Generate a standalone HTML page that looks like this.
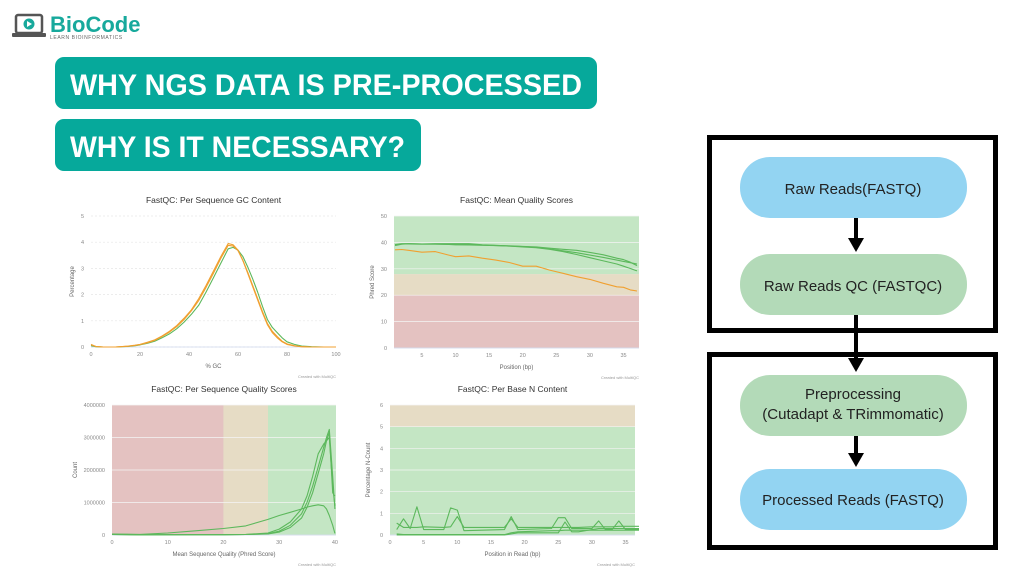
<!DOCTYPE html>
<html><head><meta charset="utf-8"><style>
html,body{margin:0;padding:0;background:#fff;}
svg{display:block;font-family:"Liberation Sans",sans-serif;}
</style></head><body>
<svg id="root" width="1024" height="576" viewBox="0 0 1024 576" xmlns="http://www.w3.org/2000/svg">
<g>
  <rect x="16" y="15" width="26" height="18" rx="2" fill="none" stroke="#555" stroke-width="2.5"/>
  <rect x="12" y="33" width="34" height="4" rx="1" fill="#555"/>
  <circle cx="29" cy="24" r="5.5" fill="#17a99c"/>
  <polygon points="27,21 27,27 32,24" fill="#fff"/>
  <text x="50" y="32" font-size="22" font-weight="bold" fill="#17a99c">BioCode</text>
  <text x="50" y="39" font-size="5" fill="#666" letter-spacing="0.6">LEARN BIOINFORMATICS</text>
</g>
<g>
  <rect x="55" y="57" width="542" height="52" rx="9" fill="#06a99b"/>
  <text x="70" y="95" font-size="30" font-weight="bold" fill="#fff" textLength="512" lengthAdjust="spacingAndGlyphs">WHY NGS DATA IS PRE-PROCESSED</text>
</g>
<g>
  <rect x="55" y="119" width="366" height="52" rx="9" fill="#06a99b"/>
  <text x="70" y="157" font-size="30" font-weight="bold" fill="#fff" textLength="335" lengthAdjust="spacingAndGlyphs">WHY IS IT NECESSARY?</text>
</g>
<g id="flow">
  <rect x="709.5" y="137.5" width="286" height="193" fill="none" stroke="#000" stroke-width="5"/>
  <rect x="709.5" y="354.5" width="286" height="193" fill="none" stroke="#000" stroke-width="5"/>
  <rect x="740" y="157" width="227" height="61" rx="30" fill="#93d4f2"/>
  <text x="853" y="194" font-size="15" text-anchor="middle" fill="#222">Raw Reads(FASTQ)</text>
  <rect x="740" y="254" width="227" height="61" rx="30" fill="#b3dab8"/>
  <text x="853" y="291" font-size="15" text-anchor="middle" fill="#222">Raw Reads QC (FASTQC)</text>
  <rect x="740" y="375" width="227" height="61" rx="30" fill="#b3dab8"/>
  <text x="853" y="399" font-size="15" text-anchor="middle" fill="#222">Preprocessing</text>
  <text x="853" y="419" font-size="15" text-anchor="middle" fill="#222">(Cutadapt &amp; TRimmomatic)</text>
  <rect x="740" y="469" width="227" height="61" rx="30" fill="#93d4f2"/>
  <text x="853" y="505" font-size="15" text-anchor="middle" fill="#222">Processed Reads (FASTQ)</text>
  <g fill="#000" stroke="#000" stroke-width="4">
    <line x1="856" y1="218" x2="856" y2="240"/><polygon points="848,238 864,238 856,252" stroke="none"/>
    <line x1="856" y1="315" x2="856" y2="360"/><polygon points="848,358 864,358 856,372" stroke="none"/>
    <line x1="856" y1="436" x2="856" y2="455"/><polygon points="848,453 864,453 856,467" stroke="none"/>
  </g>
</g>
<g id="charts"></g>
</svg>
<script>
// ---- Chart 1 data: GC content (x = %GC)
const gcX = [0,2,5,10,15,18,20,23,26,29,32,35,38,41,44,47,50,53,56,58,60,62,64,66,68,70,72,74,76,78,80,83,86,90,95,100];
const gcGreen = [0.05,0.01,0,0,0.02,0.05,0.08,0.14,0.22,0.35,0.5,0.7,0.95,1.25,1.6,2.1,2.65,3.2,3.75,3.8,3.7,3.45,3.05,2.6,2.1,1.55,1.05,0.75,0.55,0.35,0.2,0.1,0.04,0.01,0,0];
const gcOrangeA = [0.1,0.02,0,0,0.03,0.07,0.1,0.18,0.27,0.42,0.6,0.82,1.1,1.42,1.85,2.35,2.9,3.45,3.95,3.9,3.7,3.3,2.8,2.3,1.8,1.3,0.85,0.55,0.35,0.2,0.1,0.04,0.01,0,0,0];
const gcOrangeB = [0.08,0.02,0,0,0.03,0.06,0.09,0.16,0.25,0.4,0.57,0.78,1.05,1.38,1.78,2.28,2.82,3.38,3.88,3.85,3.68,3.3,2.85,2.35,1.85,1.35,0.9,0.6,0.4,0.22,0.12,0.05,0.01,0,0,0];
// ---- Chart 2 data: mean quality by position
const mqPos = [1,2,3,5,7,9,10,12,14,16,18,20,22,24,26,28,30,32,34,35,36,37];
const mqG1 = [38.8,39.3,39.5,39.4,39.4,39.3,39.2,39.2,39,38.8,38.6,38.4,38.1,37.5,36.8,36.1,35.2,34.3,33.3,32.8,32.3,31.8];
const mqG2 = [39.2,39.5,39.5,39.4,39.5,39.5,39.5,39.5,39.1,38.9,38.6,38.3,38,37.4,36.5,35.4,34.2,33,31.8,31,30.1,29.2];
const mqG3 = [39.0,39.4,39.4,39.3,39.3,39.2,39.1,39,38.9,38.8,38.7,38.5,38.3,37.8,37.4,37,36.2,35.3,34,33.5,32.5,31.2];
const mqOrange = [37.2,37.3,37,36.3,36.5,35.2,34.6,34.9,34,33.3,32.4,31,31,29.5,28.3,27,26,24.5,23.2,23,22,21.6];
// ---- Chart 3 data: per-sequence quality (counts)
const sqX = [0,5,10,15,20,24,28,30,32,34,35,36,37,38,38.5,39,39.6,40];
const sqA = [30000,20000,60000,130000,200000,280000,480000,600000,700000,800000,860000,900000,930000,900000,800000,600000,300000,50000];
const sqB = [20000,5000,10000,10000,10000,20000,60000,180000,400000,800000,1200000,1800000,2500000,2800000,2900000,3000000,1500000,900000];
const sqC = [20000,5000,10000,10000,10000,15000,40000,120000,300000,650000,1000000,1500000,2100000,2700000,3000000,3250000,1800000,800000];
const sqD = [15000,5000,5000,8000,10000,15000,30000,90000,230000,520000,850000,1300000,1900000,2500000,2900000,3150000,1300000,1200000];
// ---- Chart 4 data: per-base N content
const nPos = [1,2,3,4,5,8,9,10,11,17,18,19,24,25,26,27,28,30,31,32,33,34,35,37];
const nA = [0.25,0.75,0.3,1.3,0.25,0.25,1.25,1.15,0.2,0.25,0.85,0.25,0.3,0.8,0.8,0.3,0.3,0.3,0.65,0.25,0.25,0.65,0.25,0.25];
const nB = [0.55,0.35,0.35,0.35,0.38,0.35,0.38,0.85,0.35,0.35,0.75,0.35,0.35,0.35,0.35,0.35,0.35,0.38,0.38,0.38,0.38,0.4,0.4,0.4];
const nC = [0,0,0,0,0,0,0,0,0,0,0.05,0.1,0.1,0.1,0.6,0.15,0.15,0.25,0.3,0.3,0.3,0.3,0.3,0.3];
const nD = [0.05,0.02,0.02,0.02,0.02,0.02,0.02,0.02,0.02,0.02,0.1,0.15,0.2,0.2,0.22,0.22,0.22,0.22,0.22,0.22,0.22,0.22,0.22,0.22];
const gcTicksX = [0,20,40,60,80,100], gcTicksY = [0,1,2,3,4,5];
const mqTicksX = [5,10,15,20,25,30,35], mqTicksY = [0,10,20,30,40,50];
const sqTicksX = [0,10,20,30,40], sqTicksY = [0,1000000,2000000,3000000,4000000];
const nTicksX = [0,5,10,15,20,25,30,35], nTicksY = [0,1,2,3,4,5,6];

const NS = 'http://www.w3.org/2000/svg';
const root = document.getElementById('charts');
function mk(tag, attrs, parent, txt){const e=document.createElementNS(NS,tag);for(const k in attrs)e.setAttribute(k,attrs[k]);if(txt!==undefined)e.textContent=txt;(parent||root).appendChild(e);return e;}

function chart(cfg){
  const g = mk('g',{});
  
  
  const sx = v => cfg.x0 + (v-cfg.xmin)/(cfg.xmax-cfg.xmin)*(cfg.x1-cfg.x0);
  const sy = v => cfg.y0 - (v-cfg.ymin)/(cfg.ymax-cfg.ymin)*(cfg.y0-cfg.y1);
  (cfg.bands||[]).forEach(b=>{
    const r = mk('rect',{x:cfg.x0,y:sy(b[1]),width:cfg.x1-cfg.x0,height:sy(b[0])-sy(b[1]),fill:b[2]},g);
    
    
  });
  cfg.ticksY.forEach(t=>{
    mk('line',{x1:cfg.x0,x2:cfg.x1,y1:sy(t),y2:sy(t),stroke:cfg.bands?'#f4f4f4':'#e6e6e6','stroke-dasharray':cfg.bands?'':'2,2','stroke-width':0.7},g);
    const lb = mk('text',{x:cfg.x0-7,y:sy(t)+2,'font-size':5.5,fill:'#888','text-anchor':'end'},g,String(t));
    
    
  });
  cfg.ticksX.forEach(t=>{
    const lb = mk('text',{x:sx(t),y:cfg.y0+9,'font-size':5.5,fill:'#888','text-anchor':'middle'},g,String(t));
    
    
  });
  mk('line',{x1:cfg.x0,x2:cfg.x1,y1:cfg.y0,y2:cfg.y0,stroke:'#ccd6eb','stroke-width':0.8},g);
  const tt = mk('text',{x:(cfg.x0+cfg.x1)/2,y:cfg.ty,'font-size':8.5,fill:'#333','text-anchor':'middle'},g,cfg.title);
  
  
  const xt = mk('text',{x:(cfg.x0+cfg.x1)/2,y:cfg.y0+21,'font-size':6,fill:'#666','text-anchor':'middle'},g,cfg.xlabel);
  
  
  const yx = cfg.x0-cfg.ylOff, yy=(cfg.y0+cfg.y1)/2;
  const yt = mk('text',{x:yx,y:yy,'font-size':6,fill:'#666','text-anchor':'middle',transform:`rotate(-90 ${yx} ${yy})`},g,cfg.ylabel);
  
  
  mk('text',{x:cfg.x1,y:cfg.y0+31,'font-size':4,fill:'#999','text-anchor':'end'},g,'Created with MultiQC');
  cfg.series.forEach(s=>{
    const d = s.ys.map((v,i)=>(i?'L':'M')+sx(cfg.xs[i]).toFixed(1)+','+sy(v).toFixed(1)).join('');
    const p = mk('path',{d:d,fill:'none',stroke:s.c,'stroke-width':1.1,'stroke-linejoin':'round'},g);
    
    
  });
}
const G='#5cb85c', O='#f0a030';
const RED='#e4c2c1', ORA='#e6dcc5', GRN='#c4e6c4';
chart({name:'gc-content-chart',title:'FastQC: Per Sequence GC Content',xlabel:'% GC',ylabel:'Percentage',ty:203,ylOff:17,
  x0:91,x1:336,y0:347,y1:216,xmin:0,xmax:100,ymin:0,ymax:5,ticksX:gcTicksX,ticksY:gcTicksY,xs:gcX,
  series:[{ys:gcGreen,c:G},{ys:gcOrangeA,c:O},{ys:gcOrangeB,c:O}]});
chart({name:'mean-quality-chart',title:'FastQC: Mean Quality Scores',xlabel:'Position (bp)',ylabel:'Phred Score',ty:203,ylOff:20,
  x0:394,x1:639,y0:348,y1:216,xmin:0.85,xmax:37.3,ymin:0,ymax:50,ticksX:mqTicksX,ticksY:mqTicksY,xs:mqPos,
  bands:[[0,20,RED],[20,28,ORA],[28,50,GRN]],
  series:[{ys:mqG1,c:G},{ys:mqG2,c:G},{ys:mqG3,c:G},{ys:mqOrange,c:O}]});
chart({name:'sequence-quality-chart',title:'FastQC: Per Sequence Quality Scores',xlabel:'Mean Sequence Quality (Phred Score)',ylabel:'Count',ty:392,ylOff:35,
  x0:112,x1:336,y0:535,y1:405,xmin:0,xmax:40.2,ymin:0,ymax:4000000,ticksX:sqTicksX,ticksY:sqTicksY,xs:sqX,
  bands:[[0,4000000,GRN]],
  series:[{ys:sqA,c:G},{ys:sqB,c:G},{ys:sqC,c:G},{ys:sqD,c:G}]});
// overlay red/orange vertical bands for chart 3
(function(){const sx=v=>112+v/40.2*224;
  const r1=mk('rect',{x:sx(0),y:405,width:sx(20)-sx(0),height:130,fill:RED});
  
  
  const r2=mk('rect',{x:sx(20),y:405,width:sx(28)-sx(20),height:130,fill:ORA});
  
  
  const g3=root.children[2]; g3.insertBefore(r2,g3.children[1]); g3.insertBefore(r1,g3.children[1]);})();
chart({name:'n-content-chart',title:'FastQC: Per Base N Content',xlabel:'Position in Read (bp)',ylabel:'Percentage N-Count',ty:392,ylOff:20,
  x0:390,x1:635,y0:535,y1:405,xmin:0,xmax:36.4,ymin:0,ymax:6,ticksX:nTicksX,ticksY:nTicksY,xs:nPos,
  bands:[[0,5,GRN],[5,6,ORA]],
  series:[{ys:nA,c:G},{ys:nB,c:G},{ys:nC,c:G},{ys:nD,c:G}]});
</script>
</body></html>
